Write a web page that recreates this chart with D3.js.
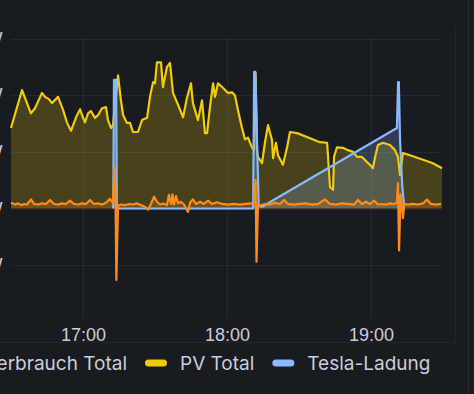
<!DOCTYPE html>
<html>
<head>
<meta charset="utf-8">
<script src="https://cdn.jsdelivr.net/npm/d3@7"></script>
<style>
  html, body { margin: 0; padding: 0; background: #181b1f; }
  svg { display: block; font-family: Inter, "Open Sans", sans-serif; }
</style>
</head>
<body>
<div id="chart"></div>
<script>
// [minutes after 16:30, kW]
const verbrauchTotal = [
  [0,0.10],[1.67,0.07],[2.92,0.09],[4.17,0.06],[5.42,0.08],[6.67,0.07],[8.33,0.16],[9.58,0.08],
  [11.25,0.07],[12.92,0.09],[14.58,0.08],[16.25,0.15],[17.92,0.08],[19.58,0.07],[21.25,0.09],
  [22.92,0.08],[24.58,0.14],[26.25,0.08],[27.92,0.07],[29.58,0.09],[31.25,0.08],[32.92,0.15],
  [34.58,0.08],[36.25,0.09],[37.92,0.07],[39.58,0.10],[41.25,0.17],[42.5,0.10],[43.1,0.73],
  [43.5,0.40],[43.9,-1.26],[44.6,0.05],[45.8,0.07],[47.5,0.06],[49.2,0.08],[50.8,0.07],[52.5,0.09],
  [55.8,0.03],[57.1,-0.02],[58.3,0.08],[59.6,0.21],[60.8,0.12],[62.1,0.07],[63.3,0.09],[65,0.06],
  [65.8,0.24],[66.7,0.08],[67.3,0.25],[67.9,0.07],[68.75,0.22],[69.6,0.09],[70.8,0.12],[72.1,0.07],
  [73.75,-0.06],[74.6,0.10],[75.8,0.16],[77.1,0.08],[78.75,0.12],[80.4,0.08],[82.1,0.14],[83.75,0.08],
  [85.8,0.11],[87.9,0.08],[90.4,0.07],[92.9,0.08],[95.4,0.07],[97.9,0.08],[100,0.09],[101.25,0.10],
  [101.9,0.50],[102.3,-0.94],[102.9,0.05],[104.2,0.06],[105.8,0.08],[107.9,0.07],[110,0.10],
  [112.1,0.08],[113.75,0.15],[115.4,0.08],[117.9,0.07],[120.4,0.08],[122.9,0.09],[125.4,0.07],
  [127.9,0.08],[130.8,0.16],[132.9,0.08],[135.4,0.07],[137.9,0.09],[140.4,0.08],[142.9,0.07],
  [144.6,0.15],[146.25,0.08],[147.9,0.12],[149.6,0.08],[151.25,0.14],[152.9,0.07],[154.6,0.08],
  [156.25,0.07],[157.9,0.09],[159.6,0.08],[160.8,0.10],[161.25,0.45],[161.7,-0.74],[162.3,0.25],
  [162.9,0.05],[163.3,-0.17],[163.9,0.08],[165.4,0.07],[167.5,0.08],[169.6,0.07],[171.7,0.09],
  [173.3,0.16],[175,0.08],[177.1,0.07],[179.2,0.08]
];

const pvTotal = [
  [0,1.42],[4.6,2.09],[8.3,1.68],[10,1.77],[12.9,2.04],[14.2,1.97],[15.8,1.93],[17.1,1.86],
  [19.6,1.97],[21.7,1.74],[23.3,1.52],[25,1.37],[27.1,1.61],[28.8,1.75],[29.6,1.65],[30.8,1.52],
  [32.1,1.68],[33.3,1.72],[35,1.60],[36.3,1.65],[37.9,1.77],[39.6,1.79],[40.4,1.56],[41.7,1.42],
  [42.5,1.47],[43.75,2.00],[44.6,2.35],[45.8,1.91],[46.7,1.65],[48.3,1.51],[49.6,1.51],[50.8,1.35],
  [52.9,1.35],[54.6,1.56],[56.7,1.60],[57.9,1.97],[59.2,2.23],[60,2.21],[60.8,2.58],[62.5,2.58],
  [63.3,2.14],[65,2.50],[66.25,2.57],[67.5,2.04],[69.6,1.83],[71.7,1.61],[73.3,1.95],[75,2.21],
  [75.8,1.86],[77.9,1.56],[79.6,1.91],[80.8,1.33],[81.7,1.33],[82.9,1.79],[84.2,2.21],[85,1.97],
  [86.25,2.21],[88.3,2.13],[90.4,2.04],[92.1,2.05],[93.3,2.00],[94.6,1.73],[96.25,1.42],[97.5,1.22],
  [98.75,1.25],[100.4,1.08],[101.25,1.03],[101.5,2.39],[101.9,2.39],[102.5,1.03],[102.9,0.91],
  [104.6,0.80],[105.8,1.16],[107.1,1.47],[108.75,1.21],[109.2,0.89],[110.4,1.16],[111.25,0.94],
  [113.3,0.77],[115,1.07],[116.25,1.35],[119.2,1.33],[124.6,1.24],[128.75,1.17],[131.7,1.16],
  [132.1,0.91],[132.9,0.38],[134.2,0.33],[134.6,0.91],[135.8,1.08],[138.3,1.07],[140.4,1.03],
  [142.5,1.00],[144.2,0.91],[146.25,0.91],[148.3,0.82],[149.6,0.77],[150.8,0.71],[151.7,0.91],
  [152.9,1.12],[155,1.16],[157.9,1.12],[160,1.03],[161.25,0.91],[162.1,0.59],[162.9,0.86],
  [163.3,0.98],[166.25,0.94],[171.7,0.86],[175.8,0.80],[179.6,0.71]
];

const teslaLadung = [
  [42.6,0],[42.9,2.27],[43.8,2.27],[44.1,0],[100.9,0],[101.3,2.41],[101.8,2.41],[103.2,0.05],
  [104.6,0.03],[160.8,1.42],[161.3,2.23],[161.6,2.23],[162.1,1.21],[163,0.41],[163.75,0.06]
];

const yTicks = [-1, 0, 1, 2, 3];
const yTickLabels = ["-1 kW", "0 W", "1 kW", "2 kW", "3 kW"];
const xTickLabels = ["17:00", "18:00", "19:00"];
const seriesNames = ["Verbrauch Total", "PV Total", "Tesla-Ladung"];
const seriesColors = ["#ff8c1a", "#f2cc0c", "#8ab8ff"];

const width = 474, height = 394;
const start = new Date(2023, 5, 15, 16, 30);
const toDate = m => new Date(start.getTime() + m * 60000);
const parseTick = d3.timeParse("%Y-%m-%d %H:%M");

const svg = d3.select("#chart").append("svg")
  .attr("width", width)
  .attr("height", height);

svg.append("rect").attr("width", width).attr("height", height).attr("fill", "#181b1f");

// panel edges
svg.append("path")
  .attr("d", "M-1,342.5H455.5V27")
  .attr("fill", "none")
  .attr("stroke", "#22252b");
svg.append("line")
  .attr("x1", 468.5).attr("x2", 468.5).attr("y1", 0).attr("y2", height)
  .attr("stroke", "#2a2d33");

const x = d3.scaleTime()
  .domain([toDate(0), toDate(180)])
  .range([11, 443]);

const y = d3.scaleLinear()
  .domain([-1.95, 3])
  .range([319, 38.5]);

const xTickDates = xTickLabels.map(s => parseTick("2023-06-15 " + s));

// grid
svg.append("g").selectAll("line")
  .data(yTicks)
  .join("line")
  .attr("x1", 11).attr("x2", 441)
  .attr("y1", d => Math.round(y(d)) + 0.5)
  .attr("y2", d => Math.round(y(d)) + 0.5)
  .attr("stroke", "rgba(204,204,220,0.08)");

svg.append("g").selectAll("line")
  .data(xTickDates)
  .join("line")
  .attr("x1", d => Math.round(x(d)) + 0.5)
  .attr("x2", d => Math.round(x(d)) + 0.5)
  .attr("y1", 38.5).attr("y2", 319)
  .attr("stroke", "rgba(204,204,220,0.08)");

// axes
const xAxis = svg.append("g")
  .attr("transform", "translate(0,319)")
  .call(d3.axisBottom(x).tickValues(xTickDates).tickFormat(d3.timeFormat("%H:%M")).tickSize(0).tickPadding(9));
xAxis.select(".domain").remove();
xAxis.selectAll("text").attr("fill", "#ccccdc").style("font-size", "18px");

const yAxis = svg.append("g")
  .attr("transform", "translate(2.5,0)")
  .call(d3.axisLeft(y).tickValues(yTicks).tickFormat((d, i) => yTickLabels[i]).tickSize(0).tickPadding(0));
yAxis.select(".domain").remove();
yAxis.selectAll("text").attr("fill", "#ccccdc").style("font-size", "18px");

// series
const area = d3.area()
  .x(d => x(toDate(d[0])))
  .y0(y(0))
  .y1(d => y(d[1]));

const line = d3.line()
  .x(d => x(toDate(d[0])))
  .y(d => y(d[1]));

const drawOrder = [
  { data: pvTotal, color: seriesColors[1] },
  { data: teslaLadung, color: seriesColors[2] },
  { data: verbrauchTotal, color: seriesColors[0] }
];

const plot = svg.append("g");
drawOrder.forEach(s => {
  plot.append("path")
    .attr("d", area(s.data))
    .attr("fill", s.color)
    .attr("fill-opacity", 0.22);
});
drawOrder.forEach(s => {
  plot.append("path")
    .attr("d", line(s.data))
    .attr("fill", "none")
    .attr("stroke", s.color)
    .attr("stroke-width", 2.2)
    .attr("stroke-linejoin", "round");
});

// legend
const legend = svg.append("g").style("font-size", "19px");
const items = legend.selectAll("g")
  .data(seriesNames)
  .join("g");
items.append("rect")
  .attr("width", 22).attr("height", 7).attr("rx", 3.5)
  .attr("y", 359.5)
  .attr("fill", (d, i) => seriesColors[i]);
items.append("text")
  .attr("x", 35)
  .attr("y", 370)
  .attr("fill", "#ccccdc")
  .text(d => d);

const widths = [];
items.select("text").each(function () { widths.push(this.getComputedTextLength()); });
let cx = 127 - widths[0] - 35;
items.each(function (d, i) {
  d3.select(this).attr("transform", "translate(" + cx + ",0)");
  cx += 35 + widths[i] + 18;
});
</script>
</body>
</html>
